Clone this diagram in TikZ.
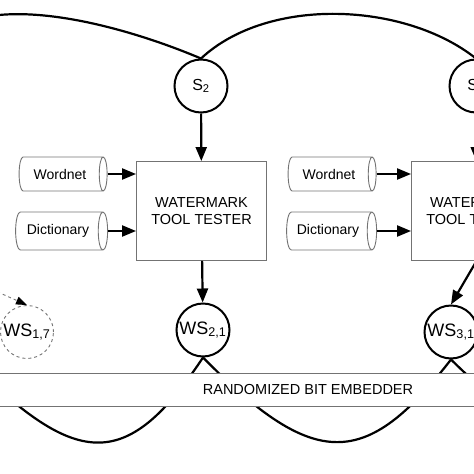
\documentclass[tikz,border=0pt]{standalone}
\usepackage{fontspec}
\setmainfont{Liberation Sans}
\usetikzlibrary{arrows.meta,shapes.geometric}
\definecolor{edgegray}{gray}{0.45}

\begin{document}
\begin{tikzpicture}[x=1pt,y=-1pt,
	tester/.style={draw=edgegray,line width=0.9pt,fill=white,minimum width=130pt,minimum height=99pt,align=center,font=\fontsize{14.5}{17}\selectfont},
	store/.style={draw=edgegray,line width=0.9pt,cylinder,aspect=0.55,inner sep=2pt,font=\fontsize{14}{16}\selectfont},
	seed/.style={draw,circle,line width=2pt,inner sep=0,minimum size=53pt,font=\fontsize{16}{18}\selectfont},
	ws/.style={draw,circle,line width=2pt,inner sep=0,minimum size=53pt,font=\fontsize{18}{20}\selectfont},
	link/.style={line width=2.2pt,-{Triangle[length=14pt,width=11pt]}},
	chain/.style={line width=2.2pt}]
	\clip (0,0) rectangle (474,474);
	\node[seed] (s2) at (201,86) {S\textsubscript{2}};
	\node[seed] (s3) at (476,86) {S\textsubscript{3}};
	\node[tester] (tester1) at (201.5,211) {WATERMARK\\TOOL TESTER};
	\node[tester] (tester2) at (476.5,211) {WATERMARK\\TOOL TESTER};
	\node[store,minimum height=88pt,minimum width=34pt] (wordnet1) at (60,174) {Wordnet};
	\node[store,minimum height=92pt,minimum width=38pt] (dict1) at (58,231) {Dictionary};
	\node[store,minimum height=88pt,minimum width=34pt] (wordnet2) at (329,174) {Wordnet};
	\node[store,minimum height=90pt,minimum width=38pt] (dict2) at (328,231) {Dictionary};
	\node[ws,draw=edgegray,line width=0.9pt,dashed] (ws17) at (27,332) {WS\textsubscript{1,7}};
	\node[ws] (ws21) at (203,330) {WS\textsubscript{2,1}};
	\node[ws] (ws31) at (451,332) {WS\textsubscript{3,1}};
	\coordinate (s1) at (-74,58);
	\coordinate (tester0) at (-74,260);
	\coordinate (ws11) at (-35,357);
	\coordinate (ws41) at (701,358);
	\draw[chain] (s2.north) .. controls (110,20) and (-40,-18) .. (s1);
	\draw[chain] (s2.north) .. controls (268,-4) and (405,2) .. (s3.north);
	\draw[link] (s2) -- (tester1);
	\draw[link] (s3) -- (tester2);
	\draw[link] (wordnet1.east) -- (wordnet1.east -| tester1.west);
	\draw[link] (dict1.east) -- (dict1.east -| tester1.west);
	\draw[link] (wordnet2.east) -- (wordnet2.east -| tester2.west);
	\draw[link] (dict2.east) -- (dict2.east -| tester2.west);
	\draw[link] (tester1) -- (ws21);
	\draw[link] (tester2.south) -- (ws31.north);
	\draw[edgegray,line width=0.9pt,dashed,-{Triangle[length=11pt,width=8pt,black]}] (tester0) -- (ws17.north);
	\draw[chain] (ws21.south) .. controls (125,475) and (75,467) .. (ws11);
	\draw[chain] (ws21.south) .. controls (315,471) and (366,469) .. (ws31.south);
	\draw[chain] (ws31.south) .. controls (561,468) and (620,470) .. (ws41);
	\node[draw=edgegray,line width=0.9pt,fill=white,minimum width=900pt,minimum height=33pt,font=\fontsize{14.5}{17}\selectfont] (embedder) at (308,389.5) {RANDOMIZED BIT EMBEDDER};
\end{tikzpicture}
\end{document}
